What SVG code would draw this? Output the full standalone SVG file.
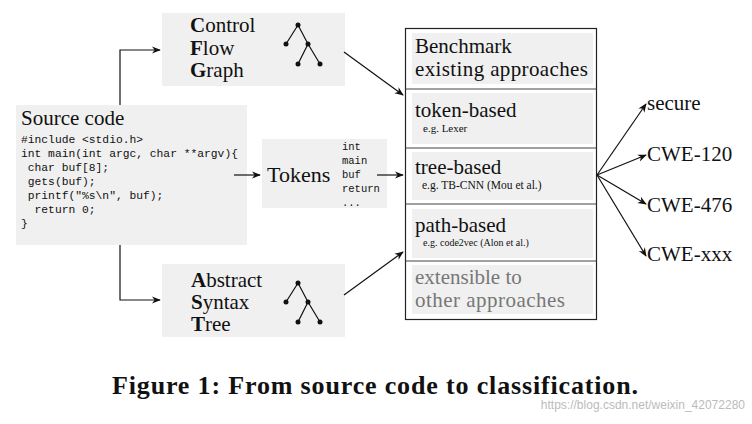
<svg xmlns="http://www.w3.org/2000/svg" width="752" height="424" viewBox="0 0 752 424">
<style>
.s{font-family:"Liberation Serif",serif;fill:#111}
.m{font-family:"Liberation Mono",monospace;font-size:11.3px;fill:#111}
.bx{fill:#f0f0f0}
.ln{stroke:#111;stroke-width:1.2;fill:none}
</style>
<defs>
<marker id="a" viewBox="0 0 10 10" refX="9" refY="5" markerWidth="9" markerHeight="9" orient="auto" markerUnits="userSpaceOnUse"><path d="M0,1 L10,5 L0,9 L3,5 z" fill="#111"/></marker>
<g id="tree"><path d="M298,25 L286,44 M298,25 L308,44 L298,64 M308,44 L320,64" stroke="#111" stroke-width="1.2" fill="none"/><circle cx="298" cy="25" r="2.5" fill="#111"/><circle cx="286" cy="44" r="2.5" fill="#111"/><circle cx="308" cy="44" r="2.5" fill="#111"/><circle cx="298" cy="64" r="2.5" fill="#111"/><circle cx="320" cy="64" r="2.5" fill="#111"/></g>
</defs>
<rect width="752" height="424" fill="#fff"/>
<g id="cfg"><rect class="bx" x="162" y="13" width="183" height="73"/>
<text class="s" font-size="21" x="190" y="32"><tspan font-weight="bold">C</tspan>ontrol</text>
<text class="s" font-size="21" x="190" y="55"><tspan font-weight="bold">F</tspan>low</text>
<text class="s" font-size="21" x="190" y="77"><tspan font-weight="bold">G</tspan>raph</text>
<use href="#tree"/></g>
<g id="ast"><rect class="bx" x="162" y="264" width="183" height="73"/>
<text class="s" font-size="21" x="191" y="287"><tspan font-weight="bold">A</tspan>bstract</text>
<text class="s" font-size="21" x="191" y="309"><tspan font-weight="bold">S</tspan>yntax</text>
<text class="s" font-size="21" x="191" y="331"><tspan font-weight="bold">T</tspan>ree</text>
<use href="#tree" transform="translate(0,258)"/></g>
<g id="src"><rect class="bx" x="16" y="105" width="231" height="140"/>
<text class="s" font-size="21" x="21" y="125">Source code</text>
<text class="m" xml:space="preserve"><tspan x="21" y="143">#include &lt;stdio.h&gt;</tspan><tspan x="21" y="157">int main(int argc, char **argv){</tspan><tspan x="21" y="171"> char buf[8];</tspan><tspan x="21" y="185"> gets(buf);</tspan><tspan x="21" y="199"> printf("%s\n", buf);</tspan><tspan x="21" y="213">  return 0;</tspan><tspan x="21" y="227">}</tspan></text></g>
<g id="tok"><rect class="bx" x="262" y="139" width="125" height="69"/>
<text class="s" font-size="22" x="267" y="182">Tokens</text>
<text class="m" style="font-size:10.5px"><tspan x="342" y="150">int</tspan><tspan x="342" y="164">main</tspan><tspan x="342" y="178">buf</tspan><tspan x="342" y="192">return</tspan><tspan x="342" y="206">...</tspan></text></g>
<g id="bench">
<rect x="405.5" y="28.5" width="191" height="291" fill="#fff" stroke="#222" stroke-width="1.2"/>
<path d="M405.5,89 H596.5 M405.5,148 H596.5 M405.5,204 H596.5 M405.5,261 H596.5" stroke="#444" stroke-width="1.2"/>
<rect class="bx" x="412" y="33" width="181" height="51"/>
<rect class="bx" x="412" y="93" width="181" height="51"/>
<rect class="bx" x="412" y="152" width="181" height="48"/>
<rect class="bx" x="412" y="209" width="181" height="49"/>
<rect class="bx" x="412" y="265" width="181" height="49"/>
<text class="s" font-size="21" x="415" y="53">Benchmark</text>
<text class="s" font-size="21" x="415" y="76" textLength="173">existing approaches</text>
<text class="s" font-size="21" x="415" y="117">token-based</text>
<text class="s" font-size="11" x="423" y="132">e.g. Lexer</text>
<text class="s" font-size="21" x="415" y="174">tree-based</text>
<text class="s" font-size="11.5" x="422" y="189">e.g. TB-CNN (Mou et al.)</text>
<text class="s" font-size="21" x="415" y="232">path-based</text>
<text class="s" font-size="10" x="423" y="246">e.g. code2vec (Alon et al.)</text>
<text class="s" font-size="21" x="415" y="284" style="fill:#777">extensible to</text>
<text class="s" font-size="21" x="415" y="307" style="fill:#777" textLength="150">other approaches</text>
</g>
<g id="out">
<text class="s" font-size="21" x="647" y="110">secure</text>
<text class="s" font-size="21" x="647" y="161">CWE-120</text>
<text class="s" font-size="21" x="647" y="212">CWE-476</text>
<text class="s" font-size="21" x="647" y="261">CWE-xxx</text>
</g>
<g id="connectors">
<path class="ln" d="M120,105 V50 H160" marker-end="url(#a)"/>
<path class="ln" d="M120,245 V300 H160" marker-end="url(#a)"/>
<path class="ln" d="M234,175 H260" marker-end="url(#a)"/>
<path class="ln" d="M377,175 H403" marker-end="url(#a)"/>
<path class="ln" d="M344,52 L403,95" marker-end="url(#a)"/>
<path class="ln" d="M344,295 L403,252" marker-end="url(#a)"/>
<path class="ln" d="M597,175 L646,104" marker-end="url(#a)"/>
<path class="ln" d="M597,175 L646,155" marker-end="url(#a)"/>
<path class="ln" d="M597,175 L646,204" marker-end="url(#a)"/>
<path class="ln" d="M597,175 L646,256" marker-end="url(#a)"/>
</g>
<text class="s" font-size="26" font-weight="bold" x="112" y="394" textLength="526">Figure 1: From source code to classification.</text>
<text x="745" y="409" text-anchor="end" font-family="Liberation Sans,sans-serif" font-size="12" fill="#bbb">https://blog.csdn.net/weixin_42072280</text>
</svg>
